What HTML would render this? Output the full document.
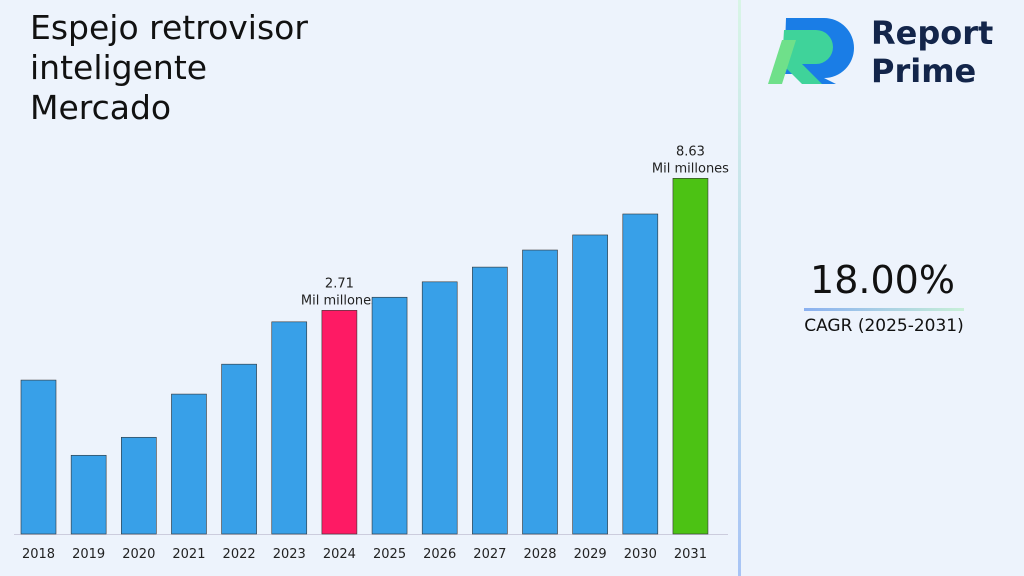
<!DOCTYPE html>
<html><head><meta charset="utf-8"><style>
body{margin:0;width:1024px;height:576px;background:#edf3fc;font-family:"Liberation Sans","DejaVu Sans",sans-serif;overflow:hidden;position:relative}
.t{position:absolute;left:30px;top:8px;font-size:33px;line-height:40px;color:#111;font-family:"DejaVu Sans",sans-serif}
</style></head><body>
<div class="t">Espejo retrovisor<br>inteligente<br>Mercado</div>
<div style="position:absolute;left:738px;top:0;width:3px;height:576px;background:linear-gradient(#d8f5e6,#a8c4f5)"></div>
<svg width="1024" height="576" style="position:absolute;left:0;top:0">
<path d="M786 18 h38 a30 30 0 0 1 0 60 l12 6 h-18 l-14 -10 h-20z" fill="#1a7de6"/>
<path d="M784 30 h32 a17 17 0 0 1 0 34 h-14 l20 20 h-20 l-20 -20z" fill="#3fd39a"/>
<path d="M768 84 l14 -44 h14 l-14 44z" fill="#6fe08a"/>
<text x="871" y="44" font-size="32" font-weight="bold" fill="#13254a" font-family="DejaVu Sans">Report</text>
<text x="871" y="82" font-size="32" font-weight="bold" fill="#13254a" font-family="DejaVu Sans">Prime</text>
</svg>
<div style="position:absolute;left:800px;top:258px;width:165px;text-align:center;font-size:38px;font-family:'DejaVu Sans',sans-serif;color:#111">18.00%</div>
<div style="position:absolute;left:804px;top:308px;width:160px;height:3px;background:linear-gradient(90deg,#8ab0f0,#c8f0d8)"></div>
<div style="position:absolute;left:795px;top:316px;width:178px;text-align:center;font-size:17px;font-family:'DejaVu Sans',sans-serif;color:#111">CAGR (2025-2031)</div>
<svg id="c" width="740" height="576" style="position:absolute;left:0;top:0"></svg>
<script>
const years=["2018","2019","2020","2021","2022","2023","2024","2025","2026","2027","2028","2029","2030","2031"];
const values=[1.47,0.76,0.89,1.30,1.69,2.45,2.71,3.04,3.48,3.96,4.60,5.25,6.31,8.63];
const labels={"2024":"2.71","2031":"8.63"};
const base=534;
function yh(v){return 110+114*Math.log(v);}
function xs(i){return 21+i*50.15;}
const s=document.getElementById('c');const NS="http://www.w3.org/2000/svg";
const ax=document.createElementNS(NS,'line');


ax.setAttribute('x1',14);ax.setAttribute('x2',728);ax.setAttribute('y1',base+0.5);ax.setAttribute('y2',base+0.5);ax.setAttribute('stroke','#ccd');s.appendChild(ax);
years.forEach((y,i)=>{
 const h=yh(values[i]);const x=xs(i);
 const r=document.createElementNS(NS,'rect');
 
 
 r.setAttribute('x',x);r.setAttribute('y',base-h);r.setAttribute('width',35);r.setAttribute('height',h);
 r.setAttribute('fill',y==="2024"?"#fe1a64":y==="2031"?"#4cc214":"#38a0e8");r.setAttribute('stroke','#333');r.setAttribute('stroke-width','0.6');
 s.appendChild(r);
 const t=document.createElementNS(NS,'text');
 
 
 t.setAttribute('x',x+17.5);t.setAttribute('y',558);t.setAttribute('text-anchor','middle');t.setAttribute('font-size','13');t.setAttribute('font-family','DejaVu Sans');t.setAttribute('fill','#222');t.textContent=y;s.appendChild(t);
 if(labels[y]){
  [labels[y],"Mil millones"].forEach((txt,k)=>{
   const l=document.createElementNS(NS,'text');
   
   
   l.setAttribute('x',x+17.5);l.setAttribute('y',base-h-(k?6:23));l.setAttribute('text-anchor','middle');l.setAttribute('font-size','13');l.setAttribute('font-family','DejaVu Sans');l.setAttribute('fill','#222');l.textContent=txt;s.appendChild(l);
  });
 }
});
</script>
</body></html>
